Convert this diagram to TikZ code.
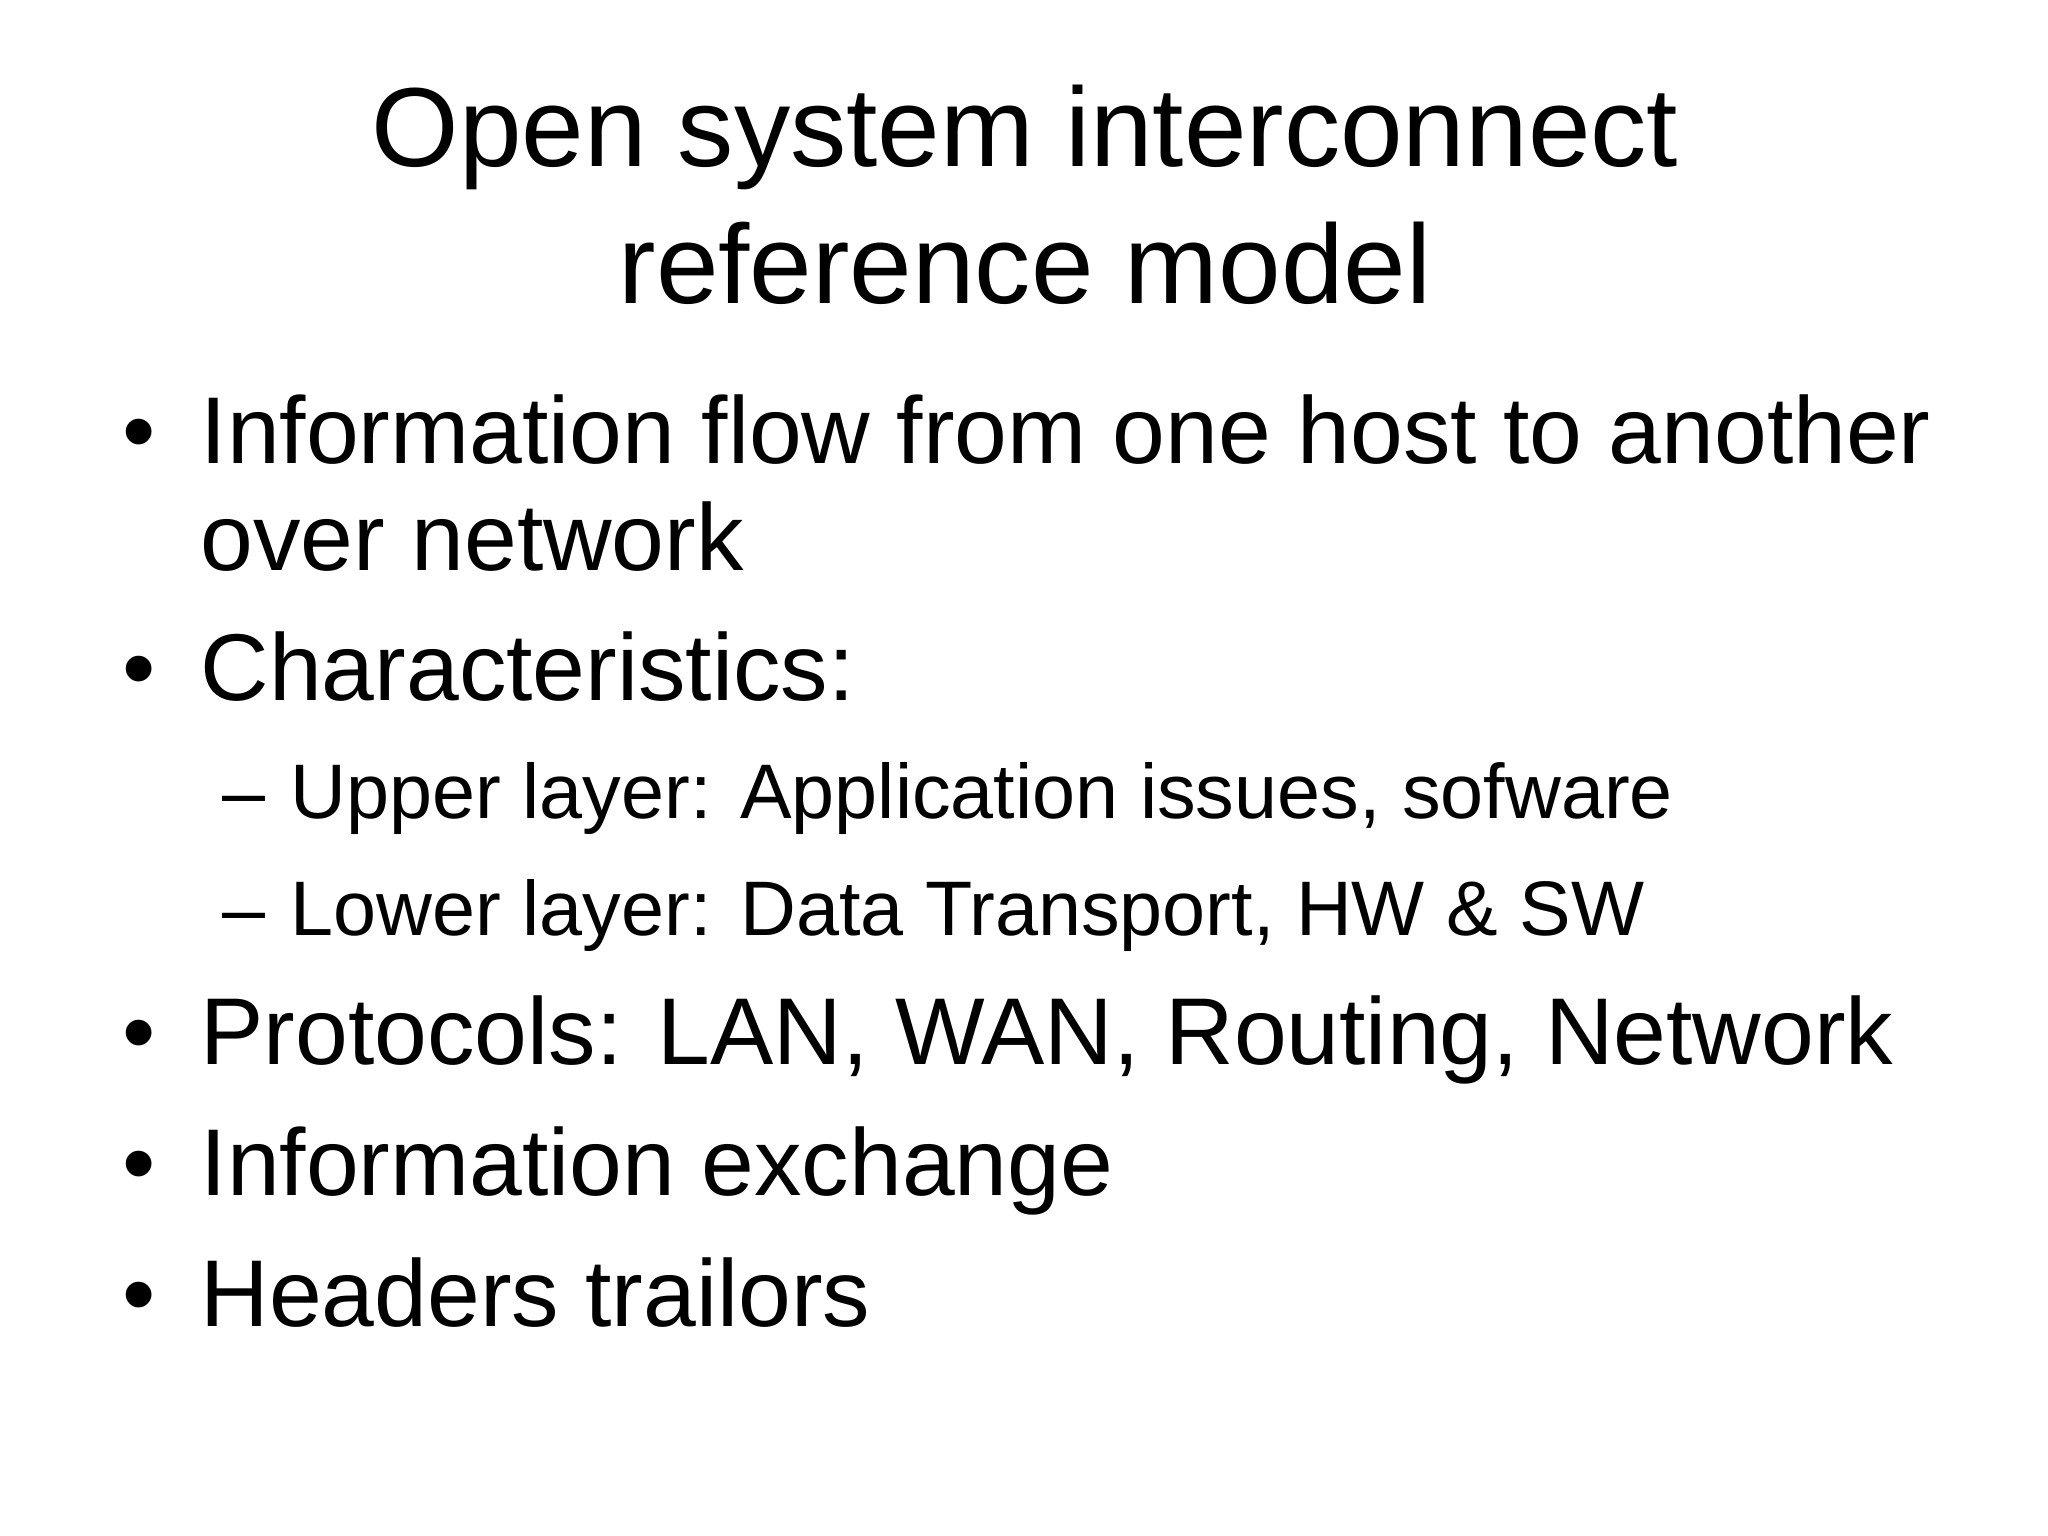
\documentclass[tikz,border=0pt]{standalone}
\usepackage{fontspec}
\setmainfont{Liberation Sans}
\begin{document}
\begin{tikzpicture}[x=1cm,y=1cm,
  ttl/.style={anchor=base,font=\fontsize{32}{38}\selectfont},
  bul/.style={anchor=base west,font=\fontsize{27}{32}\selectfont,inner sep=0},
  sub/.style={anchor=base west,font=\fontsize{22}{26}\selectfont,inner sep=0}]
\useasboundingbox (0,0) rectangle (20.48,-15.36);
\node[ttl] (t1) at (10.25,-1.67) {Open system interconnect};
\node[ttl] (t2) at (10.25,-3.04) {reference model};
\foreach \y/\n/\t in {4.64/b1/{Information flow from one host to another},
  5.71/b1b/{over network},
  7.01/b2/{Characteristics:},
  10.64/b3/{Protocols: LAN, WAN, Routing, Network},
  11.95/b4/{Information exchange},
  13.26/b5/{Headers trailors}}
  \node[bul] (\n) at (2.00,-\y) {\t};
\foreach \y/\n in {4.64/d1,7.01/d2,10.64/d3,11.95/d4,13.26/d5}
  \node[bul] (\n) at (1.22,-\y) {•};
\node[sub] (s1) at (2.22,-8.19) {–};
\node[sub] (s1t) at (2.90,-8.19) {Upper layer: Application issues, sofware};
\node[sub] (s2) at (2.22,-9.35) {–};
\node[sub] (s2t) at (2.90,-9.35) {Lower layer: Data Transport, HW \& SW};
\end{tikzpicture}
\end{document}
